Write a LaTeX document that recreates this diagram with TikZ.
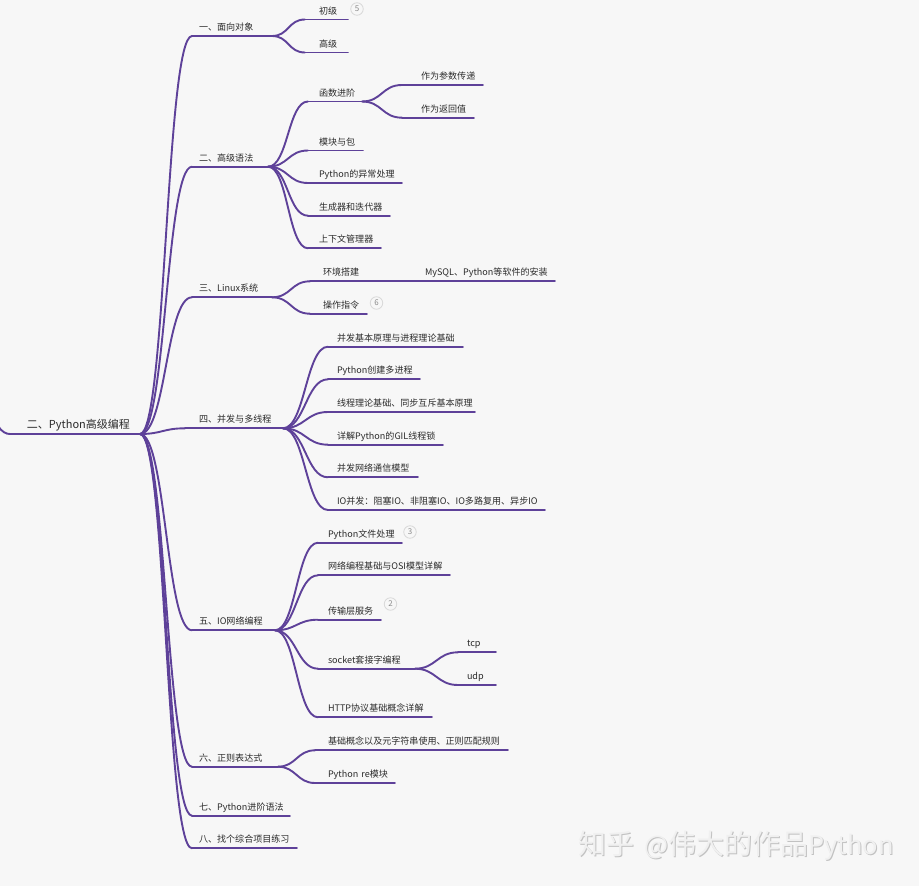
\documentclass[tikz,border=0pt]{standalone}
\usepackage{fontspec}
\setmainfont{Noto Sans CJK SC}
\definecolor{bgc}{HTML}{F7F7F7}
\definecolor{linkc}{HTML}{5E4199}
\definecolor{txtc}{HTML}{2B2B2B}
\tikzset{
  lbl/.style={inner sep=0pt,outer sep=0pt,anchor=south west,align=left,text=txtc,text height=9pt,text depth=5.4pt,font=\fontsize{9.05}{9}\selectfont},
  ul/.style={draw=linkc,line width=1.9pt,line cap=round},
  link/.style={draw=linkc,line width=1.9pt,line cap=round},
  badge/.style={circle,draw=black!15,line width=0.8pt,minimum size=12.5pt,inner sep=0pt,text=black!45,font=\fontsize{8}{8}\selectfont},
  wm/.style={inner sep=0pt,anchor=base west,font=\fontsize{28}{28}\selectfont}
}
% name, x0, x1, y, text offset, text
\newcommand\lab[6]{%
  \pgfmathsetmacro\labw{#3-#2}%
  \node[lbl,text width=\labw pt] (#1) at (#2,#4) {\hspace*{#5pt}#6};
  \draw[ul] (#1.south west) -- (#1.south east);
}
\newcommand\lnk[3]{\draw[link] (#2.south east) .. controls +(#1,0) and +(-#1,0) .. (#3.south west);}
\newcommand\wmtext{知乎\hspace{10pt}{\fontsize{25.5}{28}\selectfont @}伟大的作品{\fontsize{25.5}{28}\selectfont Python}}
\begin{document}
\begin{tikzpicture}[x=1pt,y=-1pt]
\useasboundingbox (0,0) rectangle (919,886);
\fill[bgc] (0,0) rectangle (919,886);
% root
\coordinate (start) at (-2,426);
\node[lbl,text width=130pt,font=\fontsize{11}{11}\selectfont] (root) at (10,434) {\hspace*{17pt}二、Python高级编程};
\draw[ul] (root.south west) -- (root.south east);
\draw[link] (start) .. controls +(4,6) and +(-4,0) .. (root.south west);
% level 1
\lab{a}{192}{272}{36}{7}{一、面向对象}
\lab{b}{192}{268}{166.7}{7}{二、高级语法}
\lab{c}{192}{272}{297.3}{7}{三、Linux系统}
\lab{d}{185}{283}{428.3}{14}{四、并发与多线程}
\lab{e}{192}{275}{630.3}{7}{五、IO网络编程}
\lab{f}{192}{278}{766.7}{7}{六、正则表达式}
\lab{g}{192}{290}{815.7}{7}{七、Python进阶语法}
\lab{h}{192}{297}{848.3}{7}{八、找个综合项目练习}
\foreach \n in {a,b,c,e,f,g,h} {\lnk{26}{root}{\n}}
\lnk{22}{root}{d}
% a
\lab{a1}{305}{348}{19.5}{14}{初级}
\lab{a2}{305}{348}{52.5}{14}{高级}
\lnk{17}{a}{a1}\lnk{17}{a}{a2}
\node[badge] (ba) at (357,9) {5};
% b
\lab{b1}{308}{362}{101.5}{11}{函数进阶}
\lab{b2}{308}{363}{150.5}{11}{模块与包}
\lab{b3}{308}{402}{183}{11}{Python的异常处理}
\lab{b4}{308}{390}{215.7}{11}{生成器和迭代器}
\lab{b5}{308}{381}{248.3}{11}{上下文管理器}
\foreach \n in {b1,b2,b3,b4,b5} {\lnk{20}{b}{\n}}
\lab{b11}{402}{483}{85}{19}{作为参数传递}
\lab{b12}{402}{474}{117.7}{19}{作为返回值}
\lnk{20}{b1}{b11}\lnk{20}{b1}{b12}
% c
\lab{c1}{310}{367}{281.3}{13}{环境搭建}
\lab{c2}{310}{367}{313.7}{13}{操作指令}
\lnk{19}{c}{c1}\lnk{19}{c}{c2}
\lab{c11}{387}{555}{281.3}{38}{MySQL、Python等软件的安装}
\draw[link] (c1.south east) -- (c11.south west);
\node[badge] (bc) at (376.5,303) {6};
% d
\lab{d1}{328}{463}{346.7}{9}{并发基本原理与进程理论基础}
\lab{d2}{328}{420}{379.3}{9}{Python创建多进程}
\lab{d3}{328}{475}{412}{9}{线程理论基础、同步互斥基本原理}
\lab{d4}{328}{443}{444.7}{9}{详解Python的GIL线程锁}
\lab{d5}{328}{418}{477.3}{9}{并发网络通信模型}
\lab{d6}{328}{545}{510}{9}{IO并发：阻塞IO、非阻塞IO、IO多路复用、异步IO}
\foreach \n in {d1,d2,d3,d4,d5,d6} {\lnk{22}{d}{\n}}
% e
\lab{e1}{318}{402}{542.7}{10}{Python文件处理}
\lab{e2}{318}{450}{575.3}{10}{网络编程基础与OSI模型详解}
\lab{e3}{318}{381}{619.7}{10}{传输层服务}
\lab{e4}{318}{415}{668.7}{10}{socket套接字编程}
\lab{e5}{318}{432}{717.3}{10}{HTTP协议基础概念详解}
\foreach \n in {e1,e2,e3,e4,e5} {\lnk{21}{e}{\n}}
\node[badge] (be1) at (410,532) {3};
\node[badge] (be3) at (390.5,604) {2};
\lab{e41}{458}{496}{652.3}{9}{tcp}
\lab{e42}{458}{496}{685}{9}{udp}
\lnk{21}{e4}{e41}\lnk{21}{e4}{e42}
% f
\lab{f1}{315}{508}{750.3}{13}{基础概念以及元字符串使用、正则匹配规则}
\lab{f2}{315}{395}{783}{13}{Python re模块}
\lnk{18}{f}{f1}\lnk{18}{f}{f2}
% watermark
\node[wm,text=black!24] (ws) at (579,855.5) {\wmtext};
\node[wm,text=black!6] (wt) at (578,854.5) {\wmtext};
\end{tikzpicture}
\end{document}
